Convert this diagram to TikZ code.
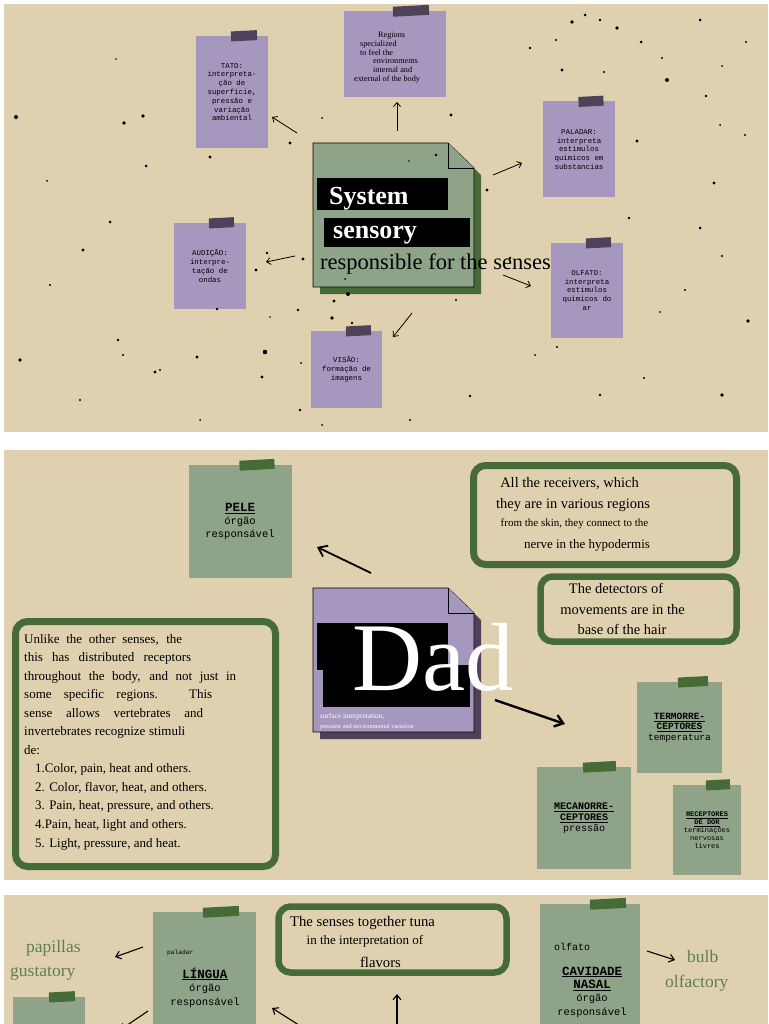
\documentclass[tikz,border=0pt]{standalone}
\usepackage{fontspec}
\setmainfont{Liberation Serif}
\setmonofont{Liberation Mono}
\usetikzlibrary{arrows.meta,positioning}
\definecolor{paper}{HTML}{DFD1AF}
\definecolor{lilac}{HTML}{A697BF}
\definecolor{lilacdark}{HTML}{4F415A}
\definecolor{sage}{HTML}{8FA389}
\definecolor{moss}{HTML}{476B36}
\definecolor{mosstext}{HTML}{5F7F4C}
\newcommand{\fsz}[2]{\fontsize{#1}{#2}\selectfont}
\newcommand{\headg}[1]{\textbf{\underline{#1}}}
% tape on a note: node, shift, width, colour
\newcommand{\tape}[4]{\node[tapebox,fill=#4,minimum width=#3] (#1-tape) at ([xshift=#2]#1.north) {};}
% folded page: origin, fill, shadow
\newcommand{\docpage}[3]{%
  \begin{scope}[shift={#1}]
    \fill[#3] (7,7) -- (142,7) -- (168,32) -- (168,151) -- (7,151) -- cycle;
    \draw[fill=#2,line width=0.8pt] (0,0) -- (135,0) -- (161,25) -- (161,144) -- (0,144) -- cycle;
    \draw[fill=#2,line width=0.8pt] (135,0) -- (135,25) -- (161,25);
  \end{scope}}

\begin{document}
\begin{tikzpicture}[x=1pt,y=-1pt,every node/.style={inner sep=0pt}]
\tikzstyle{pnote}=[fill=lilac,align=center,font=\ttfamily\fsz{7.4}{8.8}]
\tikzstyle{gnote}=[fill=sage,align=center,font=\ttfamily\fsz{10.5}{12.8}]
\tikzstyle{tapebox}=[minimum height=10pt,rotate=3]
\tikzstyle{frame}=[draw=moss,line width=7pt,rounded corners=12pt]
\tikzstyle{regtext}=[font=\fsz{8.2}{9}]
\tikzstyle{bodytext}=[font=\fsz{13}{15}]
\tikzstyle{boxtext}=[font=\fsz{14.5}{16}]
\tikzstyle{doctitle}=[font=\bfseries\fsz{26}{28},text=white]
\tikzstyle{greenword}=[font=\fsz{17.5}{19},text=mosstext]
\tikzstyle{arr}=[-{Straight Barb[length=4pt,width=7pt]},line width=0.8pt]
\tikzstyle{midarr}=[-{Straight Barb[length=5pt,width=8pt]},line width=1.1pt]
\tikzstyle{bigarr}=[-{Straight Barb[length=8pt,width=12pt]},line width=1.8pt]
\useasboundingbox (0,0) rectangle (768,1024);
\fill[white] (0,0) rectangle (768,1024);
\fill[paper] (4,4) rectangle (768,432);
\fill[paper] (4,450) rectangle (768,880);
\fill[paper] (4,895) rectangle (768,1024);

% ---------- panel 1
\node[pnote,minimum width=72pt,minimum height=112pt] (tato) at (232,92) {TATO:\\interpreta-\\ção de\\superfície,\\pressão e\\variação\\ambiental};
\tape{tato}{12pt}{26pt}{lilacdark}
\node[pnote,minimum width=102pt,minimum height=86pt] (regions) at (395,54) {};
\tape{regions}{16pt}{36pt}{lilacdark}
\foreach \xx/\yy/\txt [count=\i] in {378/38/Regions, 360/46.5/specialized, 360/55.3/{to feel the}, 373/64/environments, 373/72.8/{internal and}, 354/81.6/{external of the body}}
  \node[regtext,anchor=base west] (reg-\i) at (\xx,\yy) {\txt};
\node[pnote,minimum width=72pt,minimum height=96pt] (paladar) at (579,149.5) {PALADAR:\\interpreta\\estimulos\\quimicos em\\substancias};
\tape{paladar}{12pt}{25pt}{lilacdark}
\node[pnote,minimum width=72pt,minimum height=95pt] (olfato) at (587,290.5) {OLFATO:\\interpreta\\estimulos\\quimicos do\\ar};
\tape{olfato}{11.5pt}{25pt}{lilacdark}
\node[pnote,minimum width=72pt,minimum height=86pt] (audicao) at (210,266) {AUDIÇÃO:\\interpre-\\tação de\\ondas};
\tape{audicao}{11.5pt}{25pt}{lilacdark}
\node[pnote,minimum width=71pt,minimum height=77pt] (visao) at (346.5,369.5) {VISÃO:\\formação de\\imagens};
\tape{visao}{12pt}{25pt}{lilacdark}

\docpage{(313,143)}{sage}{moss}
\fill (317,178) rectangle (448,210);
\fill (324,218) rectangle (470,247);
\node[doctitle,anchor=base west] (system) at (329,205) {System};
\node[doctitle,anchor=base west] (sensory) at (333,239) {sensory};
\node[font=\fsz{22.5}{24},anchor=base west] (senses) at (320,269) {responsible for the senses};

\coordinate (tato-a) at (297,133);  \coordinate (tato-b) at (272,117);
\coordinate (reg-a) at (397,131);   \coordinate (reg-b) at (397,102);
\coordinate (pal-a) at (493,175);   \coordinate (pal-b) at (522,163);
\coordinate (olf-a) at (503,275);   \coordinate (olf-b) at (531,286);
\coordinate (aud-a) at (295,256);   \coordinate (aud-b) at (266,262);
\coordinate (vis-a) at (412,313);   \coordinate (vis-b) at (393,337);
\foreach \n in {tato,reg,pal,olf,aud,vis}
  \draw[arr] (\n-a) -- (\n-b);

% dots
\foreach \xx/\yy/\r in {16/117/2, 116/59/0.9, 124/123/1.8, 143/116/1.8, 146/166/1.5, 47/181/1, 210/157/1.6, 290/143/1.7, 322/118/1, 451/115/1.7, 530/48/1.4, 556/40/1.2, 572/22/1.8, 585/15/1.5, 600/20/1.3, 617/28/1.8, 641/42/1.5, 662/58/1.2, 667/80/2, 700/20/1.5, 706/96/1.3, 722/66/1, 746/42/1.2, 562/70/1.6, 604/72/1.2, 487/190/1.7, 637/141/1.6, 629/218/1.4, 714/183/1.6, 745/135/1.2, 700/228/1.5, 722/256/1.2, 748/321/1.8, 660/312/1, 722/395/1.8, 557/347/1.2, 644/378/1.2, 470/396/1.3, 535/355/1, 267/253/1.4, 303/259/1.6, 256/270/1.7, 334/301/1.6, 298/310/1.4, 270/317/0.9, 332/318/1.8, 352/323/1.3, 217/309/1.4, 197/357/1.6, 265/352/2.3, 301/363/1, 262/377/1.6, 160/370/1.2, 83/250/1.6, 110/222/1.5, 50/285/1.1, 20/360/1.8, 118/340/1.4, 123/355/1.2, 155/372/1.6, 300/410/1.3, 409/161/0.9, 345/279/1, 348/294/2, 456/300/1.2, 510/258/1.4, 436/155/1.4, 322/425/1, 80/400/1.2, 200/420/1, 410/420/1.2, 720/125/1, 600/395/1.4, 685/290/1.2}
  \fill (\xx,\yy) circle (\r);

% ---------- panel 2
\node[gnote,minimum width=103pt,minimum height=113pt] (pele) at (240,521.5) {\headg{\fsz{12.5}{13}PELE}\\órgão\\responsável};
\tape{pele}{17pt}{35pt}{moss}
\coordinate (pele-a) at (371,573); \coordinate (pele-b) at (317,547);
\draw[bigarr] (pele-a) -- (pele-b);

\node[frame,minimum width=263pt,minimum height=99pt] (receivers) at (605,515) {};
\foreach \xx/\yy/\sz/\txt [count=\i] in {569.5/487.5/14.5/{All the receivers, which}, 573/508/14.5/{they are in various regions}, 574.5/526/11/{from the skin, they connect to the}, 587/548/13/{nerve in the hypodermis}}
  \node[anchor=base,font=\fsz{\sz}{\sz}] (recv-\i) at (\xx,\yy) {\txt};
\node[frame,line width=6.5pt,minimum width=196pt,minimum height=65pt] (detectors) at (638.5,609) {};
\foreach \xx/\yy/\txt [count=\i] in {616/593/{The detectors of}, 622.5/614/{movements are in the}, 622/634/{base of the hair}}
  \node[boxtext,anchor=base] (det-\i) at (\xx,\yy) {\txt};

\node[frame,minimum width=260pt,minimum height=245pt] (unlike) at (145.5,744) {};
\foreach \i/\w/\txt in {0/158/{Unlike the other senses, the}, 1/167/{this has distributed receptors}, 2/212/{throughout the body, and not just in}, 3/188/{some specific regions. This}, 4/179/{sense allows vertebrates and}, 5/161/{invertebrates recognize stimuli}}
  \node[bodytext,anchor=base west] (body-\i) at (24,643+18.55*\i) {\makebox[\w pt][s]{\txt}};
\node[bodytext,anchor=base west] (body-6) at (24,643+18.55*6) {de:};
\foreach \i/\txt in {7/{1.Color, pain, heat and others.}, 8/{2. Color, flavor, heat, and others.}, 9/{3. Pain, heat, pressure, and others.}, 10/{4.Pain, heat, light and others.}, 11/{5. Light, pressure, and heat.}}
  \node[bodytext,anchor=base west] (body-\i) at (35,643+18.55*\i) {\txt};

\docpage{(313,588)}{lilac}{lilacdark}
\fill (317,623) rectangle (448,670);
\fill (323,665) rectangle (470,707);
\node[font=\fsz{97}{100},text=white,anchor=base west] (dad) at (352,690) {Dad};
\node[font=\fsz{7.3}{8},text=white,anchor=base west] (surf-1) at (320,718) {surface interpretation,};
\node[font=\fsz{6.3}{7},text=white,anchor=base west] (surf-2) at (320,728) {pressure and environmental variation};
\coordinate (dad-a) at (495,700); \coordinate (dad-b) at (565,724);
\draw[bigarr,line width=2.4pt] (dad-a) -- (dad-b);

\node[gnote,font=\ttfamily\fsz{9.5}{10.3},minimum width=85pt,minimum height=91pt] (termo) at (679.5,727.5) {\headg{TERMORRE-}\\\headg{CEPTORES}\\temperatura};
\tape{termo}{13.5pt}{30pt}{moss}
\node[gnote,font=\ttfamily\fsz{10}{10.7},minimum width=94pt,minimum height=102pt] (mecano) at (584,818) {\headg{MECANORRE-}\\\headg{CEPTORES}\\pressão};
\tape{mecano}{15.5pt}{33pt}{moss}
\node[gnote,font=\ttfamily\fsz{7}{8},minimum width=68pt,minimum height=90pt] (dor) at (707,830) {\headg{RECEPTORES}\\\headg{DE DOR}\\terminações\\nervosas\\livres};
\tape{dor}{11pt}{24pt}{moss}

% ---------- panel 3
\node[greenword,anchor=base west] (papillas) at (26,952) {papillas};
\node[greenword,anchor=base west] (gustatory) at (10,976) {gustatory};
\coordinate (pap-a) at (143,947); \coordinate (pap-b) at (115,957);
\draw[midarr] (pap-a) -- (pap-b);

\node[gnote,minimum width=103pt,minimum height=140pt] (lingua) at (204.5,982) {};
\tape{lingua}{16.5pt}{36pt}{moss}
\node[font=\ttfamily\fsz{6.2}{7},anchor=base west] (lingua-sub) at (167,954) {paladar};
\node[font=\ttfamily\fsz{10.5}{13.5},align=center] (lingua-txt) at (205,987.5) {\headg{\fsz{12.5}{13.5}LÍNGUA}\\órgão\\responsável};

\node[gnote,minimum width=72pt,minimum height=50pt] (small) at (49,1022) {};
\tape{small}{13pt}{26pt}{moss}
\coordinate (small-a) at (148,1011); \coordinate (small-b) at (120,1030);
\draw[midarr] (small-a) -- (small-b);

\node[frame,line width=6.5pt,minimum width=228pt,minimum height=66pt] (tuna) at (392.5,939.5) {};
\foreach \xx/\yy/\sz/\txt [count=\i] in {362.5/926/14.7/{The senses together tuna}, 365/944.5/13/{in the interpretation of}, 380.5/967/14.7/{flavors}}
  \node[anchor=base,font=\fsz{\sz}{\sz}] (tuna-\i) at (\xx,\yy) {\txt};
\coordinate (tuna-a) at (397,1030); \coordinate (tuna-b) at (397,994);
\draw[midarr] (tuna-a) -- (tuna-b);
\coordinate (ling-a) at (302,1027); \coordinate (ling-b) at (272,1008);
\draw[midarr] (ling-a) -- (ling-b);

\node[gnote,minimum width=100pt,minimum height=140pt] (nasal) at (590,974) {};
\tape{nasal}{18pt}{36pt}{moss}
\node[font=\ttfamily\fsz{10}{11},anchor=base west] (nasal-sub) at (554,950) {olfato};
\node[font=\ttfamily\fsz{10.5}{13.3},align=center] (nasal-txt) at (592,992) {\headg{\fsz{12.5}{13.3}CAVIDADE}\\\headg{\fsz{12.5}{13.3}NASAL}\\órgão\\responsável};
\coordinate (nasal-a) at (647,951); \coordinate (nasal-b) at (675,960);
\draw[midarr] (nasal-a) -- (nasal-b);
\node[greenword,anchor=base west] (bulb) at (687,962) {bulb};
\node[greenword,anchor=base west] (olfactory) at (665,987) {olfactory};
\end{tikzpicture}
\end{document}
